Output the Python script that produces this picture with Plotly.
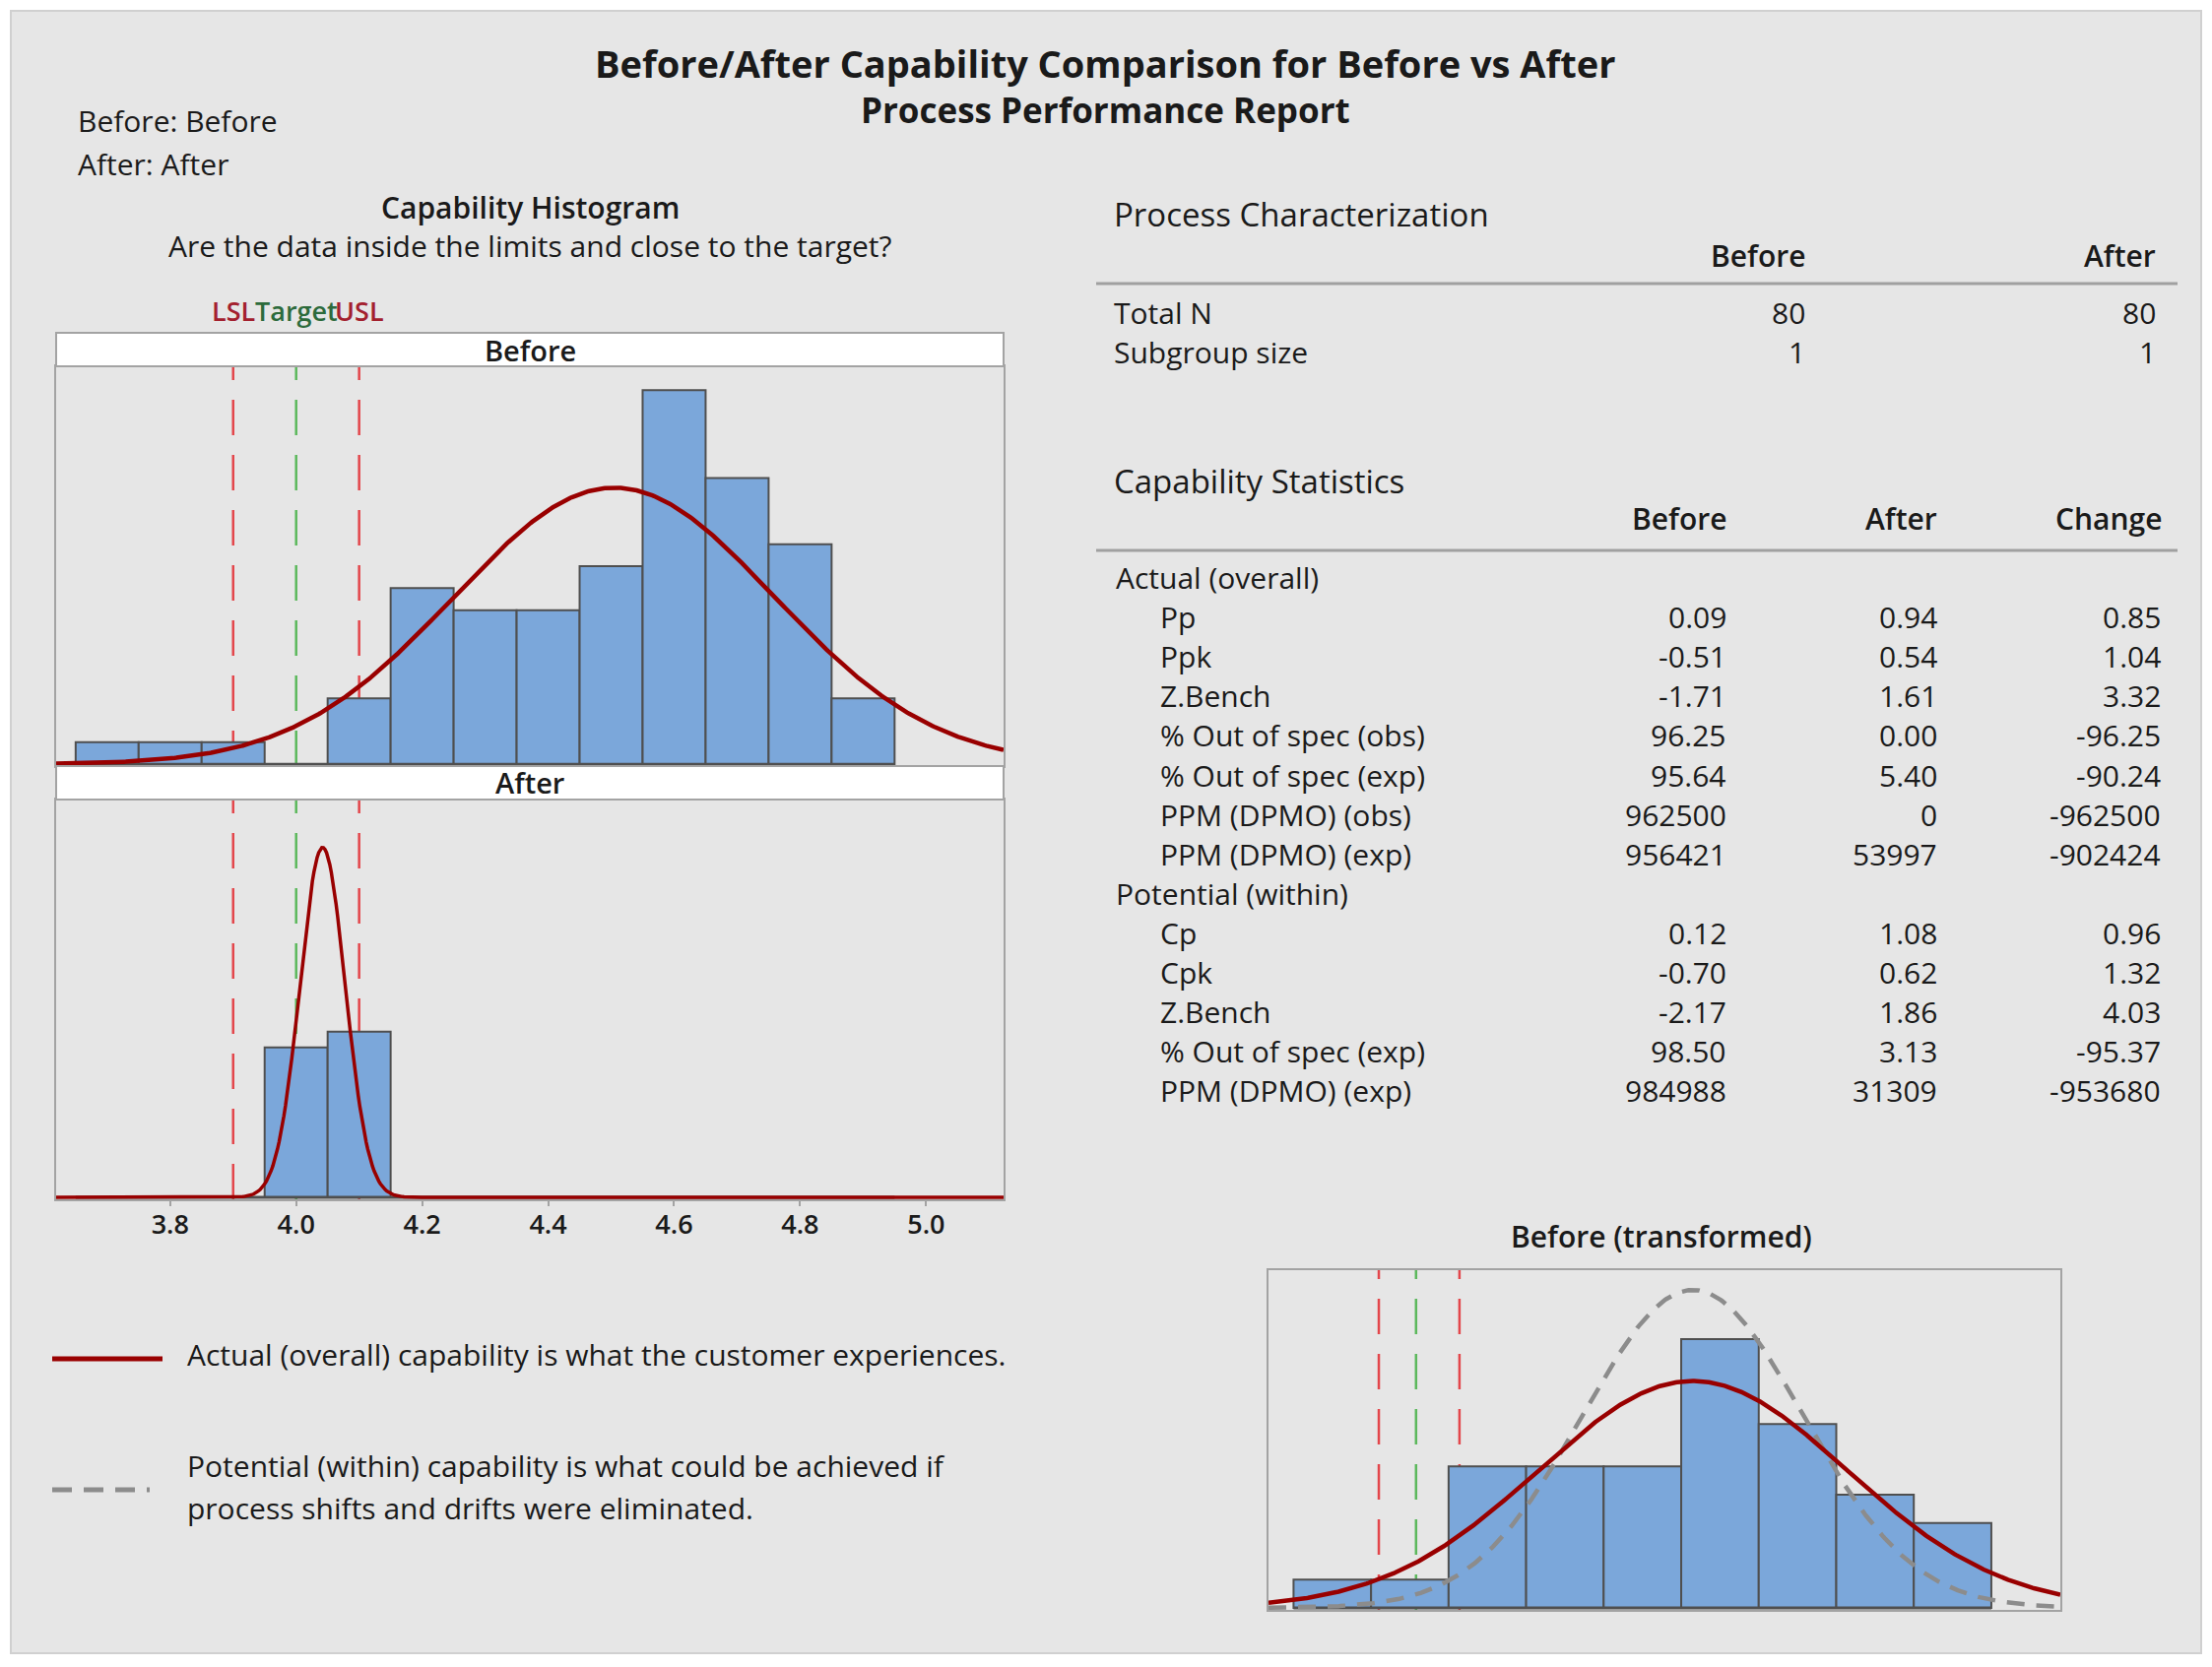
import numpy as np
import plotly.graph_objects as go

# Minitab-style Before/After capability report, rebuilt in plotly

W, H = 2246, 1693
PAGE_PAD = 8  # browser body margin, figure is drawn inside it
FW, FH = W - 2 * PAGE_PAD, H - 2 * PAGE_PAD
FONT = "Open Sans"
INK = "#1a1a1a"
FRAME = "#a3a3a3"
BAR = "#7ba7da"
BAR_EDGE = "#4f4f4f"
CURVE = "#990000"
WITHIN = "#8c8c8c"
SPEC_RED = "#e3464b"
SPEC_GREEN = "#5cb85c"


def px(x):
    return (x - PAGE_PAD) / FW


def py(y):
    return 1 - (y - PAGE_PAD) / FH


# ---- data ----
n_total = 80
hist_edges = [3.65, 3.75, 3.85, 3.95, 4.05, 4.15, 4.25, 4.35, 4.45, 4.55, 4.65, 4.75, 4.85, 4.95]
before_counts = [1, 1, 1, 0, 3, 8, 7, 7, 9, 17, 13, 10, 3]
after_counts = [0, 0, 0, 38, 42, 0, 0, 0, 0, 0, 0, 0, 0]
spec_names = ["LSL", "Target", "USL"]
spec_values = [3.9, 4.0, 4.1]
before_mean, before_sd = 4.505, 0.254
after_mean, after_sd = 4.042, 0.036

# transformed before data (arbitrary transformed units, no ticks shown)
trans_edges = [0, 1, 2, 3, 4, 5, 6, 7, 8, 9]
trans_counts = [2, 2, 10, 10, 10, 19, 13, 8, 6]
trans_spec = [1.10, 1.58, 2.14]
trans_mean = 5.15
trans_sd_overall = 1.99
trans_sd_within = 1.42

char_rows = ["Total N", "Subgroup size"]
char_before = ["80", "1"]
char_after = ["80", "1"]

stat_rows = ["Actual (overall)", "Pp", "Ppk", "Z.Bench", "% Out of spec (obs)",
             "% Out of spec (exp)", "PPM (DPMO) (obs)", "PPM (DPMO) (exp)",
             "Potential (within)", "Cp", "Cpk", "Z.Bench", "% Out of spec (exp)",
             "PPM (DPMO) (exp)"]
stat_before = ["", "0.09", "-0.51", "-1.71", "96.25", "95.64", "962500", "956421",
               "", "0.12", "-0.70", "-2.17", "98.50", "984988"]
stat_after = ["", "0.94", "0.54", "1.61", "0.00", "5.40", "0", "53997",
              "", "1.08", "0.62", "1.86", "3.13", "31309"]
stat_change = ["", "0.85", "1.04", "3.32", "-96.25", "-90.24", "-962500", "-902424",
               "", "0.96", "1.32", "4.03", "-95.37", "-953680"]
group_rows = ["Actual (overall)", "Potential (within)"]

x_range = [3.619, 5.123]
t_range = [-0.323, 9.89]


def normal(x, mu, sd):
    return np.exp(-0.5 * ((x - mu) / sd) ** 2) / (sd * np.sqrt(2 * np.pi))


def hist_trace(edges, counts, xa, ya, scale):
    centers = [(edges[i] + edges[i + 1]) / 2 for i in range(len(counts))]
    widths = [edges[i + 1] - edges[i] for i in range(len(counts))]
    return go.Bar(x=centers, y=[c * scale for c in counts], width=widths,
                  marker=dict(color=BAR, line=dict(color=BAR_EDGE, width=2)),
                  xaxis=xa, yaxis=ya, hoverinfo="skip")


def baseline(edges, xa, ya):
    return go.Scatter(x=[edges[0], edges[-1]], y=[0, 0], mode="lines",
                      line=dict(color=BAR_EDGE, width=3), xaxis=xa, yaxis=ya,
                      hoverinfo="skip")


fig = go.Figure()

bin_w = hist_edges[1] - hist_edges[0]
dens = 1 / (n_total * bin_w)
xs = np.linspace(x_range[0], x_range[1], 600)

# Before panel
fig.add_trace(baseline(hist_edges, "x", "y"))
fig.add_trace(hist_trace(hist_edges, before_counts, "x", "y", dens))
fig.add_trace(go.Scatter(x=xs, y=normal(xs, before_mean, before_sd), mode="lines",
                         line=dict(color=CURVE, width=4.5), xaxis="x", yaxis="y"))

# After panel
fig.add_trace(baseline(hist_edges, "x2", "y2"))
fig.add_trace(hist_trace(hist_edges, after_counts, "x2", "y2", dens))
fig.add_trace(go.Scatter(x=xs, y=normal(xs, after_mean, after_sd), mode="lines",
                         line=dict(color=CURVE, width=3.5), xaxis="x2", yaxis="y2"))

# Before (transformed) panel, in counts
tw = trans_edges[1] - trans_edges[0]
ts = np.linspace(t_range[0], t_range[1], 600)
fig.add_trace(baseline(trans_edges, "x3", "y3"))
fig.add_trace(hist_trace(trans_edges, trans_counts, "x3", "y3", 1))
fig.add_trace(go.Scatter(x=ts, y=n_total * tw * normal(ts, trans_mean, trans_sd_within),
                         mode="lines", line=dict(color=WITHIN, width=4.5, dash="18px,12px"),
                         xaxis="x3", yaxis="y3"))
fig.add_trace(go.Scatter(x=ts, y=n_total * tw * normal(ts, trans_mean, trans_sd_overall),
                         mode="lines", line=dict(color=CURVE, width=4.5),
                         xaxis="x3", yaxis="y3"))

axis_common = dict(showgrid=False, zeroline=False, showline=True, mirror=True,
                   linecolor=FRAME, linewidth=2, fixedrange=True)

fig.update_layout(
    width=FW, height=FH,
    margin=dict(l=0, r=0, t=0, b=0),
    paper_bgcolor="white",
    plot_bgcolor="white",
    showlegend=False,
    font=dict(family=FONT, color=INK, size=30),
    xaxis=dict(domain=[px(57), px(1019)], range=x_range, showticklabels=False,
               ticks="", anchor="y", **axis_common),
    yaxis=dict(domain=[py(778), py(372)], range=[-0.01, 2.26], showticklabels=False,
               ticks="", anchor="x", **axis_common),
    xaxis2=dict(domain=[px(57), px(1019)], range=x_range, matches="x", anchor="y2",
                dtick=0.2, tick0=0, tickformat=".1f", ticks="outside", ticklen=5,
                tickcolor=FRAME, tickwidth=2, ticklabelstandoff=-4,
                tickfont=dict(family=FONT, size=27, weight=600, color=INK),
                **axis_common),
    yaxis2=dict(domain=[py(1218), py(812)], range=[-0.06, 12.6], showticklabels=False,
                ticks="", anchor="x2", **axis_common),
    xaxis3=dict(domain=[px(1288), px(2092)], range=t_range, showticklabels=False,
                ticks="", anchor="y3", **axis_common),
    yaxis3=dict(domain=[py(1635), py(1290)], range=[-0.14, 23.87], showticklabels=False,
                ticks="", anchor="x3", **axis_common),
)

shapes = []
# grey report background
shapes.append(dict(type="rect", xref="paper", yref="paper", x0=px(11), x1=px(2235),
                   y0=py(1679), y1=py(11), fillcolor="#e6e6e6",
                   line=dict(color="#d0d0d0", width=2), layer="below"))
# strip headers
for top, bot in [(338, 372), (778, 812)]:
    shapes.append(dict(type="rect", xref="paper", yref="paper", x0=px(57), x1=px(1019),
                       y0=py(bot), y1=py(top), fillcolor="white",
                       line=dict(color=FRAME, width=2)))

# spec limit lines
for xa, ya, vals in [("x", "y", spec_values), ("x2", "y2", spec_values), ("x3", "y3", trans_spec)]:
    for name, v in zip(spec_names, vals):
        shapes.append(dict(type="line", xref=xa, yref=ya + " domain", x0=v, x1=v, y0=0, y1=1,
                           layer="below",
                           line=dict(color=SPEC_GREEN if name == "Target" else SPEC_RED,
                                     width=2.5, dash="36px,20px")))

# table rules
for yy in [288, 559]:
    shapes.append(dict(type="line", xref="paper", yref="paper", x0=px(1113), x1=px(2211),
                       y0=py(yy), y1=py(yy), line=dict(color="#a0a0a0", width=3)))

# legend keys
shapes.append(dict(type="line", xref="paper", yref="paper", x0=px(53), x1=px(165),
                   y0=py(1380), y1=py(1380), line=dict(color=CURVE, width=5)))
shapes.append(dict(type="line", xref="paper", yref="paper", x0=px(53), x1=px(152),
                   y0=py(1513), y1=py(1513), line=dict(color=WITHIN, width=5, dash="20px,12px")))

fig.update_layout(shapes=shapes)


def note(text, x, y, anchor="left", size=30, weight=400, color=INK):
    fig.add_annotation(text=text, x=px(x), y=py(y), xref="paper", yref="paper",
                       xanchor=anchor, yanchor="middle", showarrow=False,
                       font=dict(family=FONT, size=size, weight=weight, color=color))


note("Before/After Capability Comparison for Before vs After", 1122, 64, "center", 38, 700)
note("Process Performance Report", 1122, 111, "center", 35, 700)
note("Before: Before", 77, 123)
note("After: After", 77, 167)
note("Capability Histogram", 538, 211, "center", 30, 600)
note("Are the data inside the limits and close to the target?", 538, 250, "center")
note("Before", 538, 355, "center", 29, 600)
note("After", 538, 795, "center", 29, 600)

spec_label_colors = ["#a3202e", "#2d6b3c", "#a3202e"]
for name, v, col in zip(spec_names, spec_values, spec_label_colors):
    fig.add_annotation(text=name, x=v, xref="x", y=py(315), yref="paper", xanchor="center",
                       yanchor="middle", showarrow=False,
                       font=dict(family=FONT, size=27, weight=600, color=col))

note("Actual (overall) capability is what the customer experiences.", 188, 1375)
note("Potential (within) capability is what could be achieved if", 188, 1488)
note("process shifts and drifts were eliminated.", 188, 1531)

note("Before (transformed)", 1687, 1255, "center", 30, 600)

# Process Characterization table
note("Process Characterization", 1129, 218, size=33)
note("Before", 1835, 259, "right", weight=600)
note("After", 2191, 259, "right", weight=600)
for i, label in enumerate(char_rows):
    yy = 317 + i * 40.5
    note(label, 1129, yy)
    note(char_before[i], 1835, yy, "right")
    note(char_after[i], 2191, yy, "right")

# Capability Statistics table
note("Capability Statistics", 1129, 488, size=33)
note("Before", 1755, 527, "right", weight=600)
note("After", 1969, 527, "right", weight=600)
note("Change", 2197, 527, "right", weight=600)
for i, label in enumerate(stat_rows):
    yy = 587 + i * 40
    note(label, 1131 if label in group_rows else 1176, yy)
    note(stat_before[i], 1755, yy, "right")
    note(stat_after[i], 1969, yy, "right")
    note(stat_change[i], 2196, yy, "right")

fig.write_html("out.html")
